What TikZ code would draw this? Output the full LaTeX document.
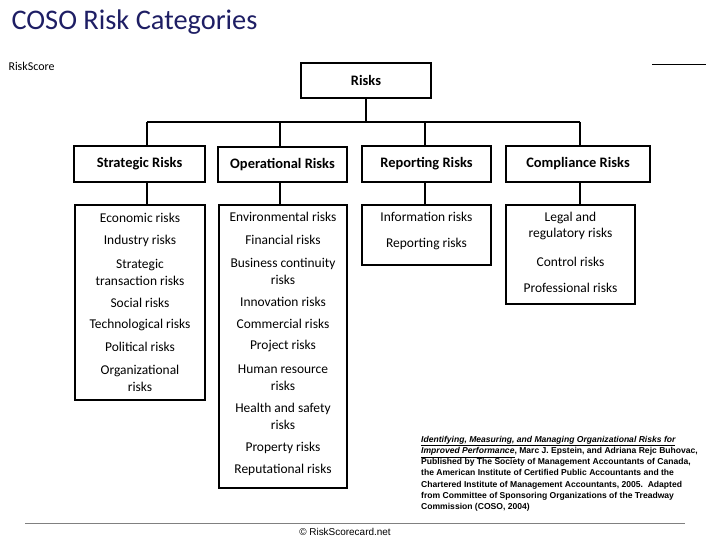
\documentclass[tikz,border=0pt]{standalone}
\usepackage{fontspec}
\setmainfont{Carlito}
\newfontfamily\citefont{Liberation Sans}
\definecolor{titleblue}{RGB}{30,30,100}
\tikzset{
  box/.style={draw, line width=1.4pt, inner sep=0pt},
  head/.style={box, font=\bfseries\fontsize{14.5}{16}\selectfont},
  item/.style={font=\fontsize{13.5}{17}\selectfont, align=center, inner sep=0pt},
  link/.style={line width=1.1pt}
}
\begin{document}
\begin{tikzpicture}[x=1bp, y=-1bp]
\useasboundingbox (0,0) rectangle (720,540);

\node[anchor=west, text=titleblue, font=\fontsize{28.5}{31}\selectfont] (title) at (8,22) {COSO Risk Categories};
\node[anchor=west, font=\fontsize{12}{14}\selectfont] (rs) at (5,66) {RiskScore};
\draw[line width=0.6pt] (652,64) -- (706,64);

% top
\node[head, minimum width=130bp, minimum height=35bp] (risks) at (366,80.5) {Risks};

% categories
\node[head, minimum width=131bp, minimum height=36bp] (strat) at (139.5,164) {Strategic Risks};
\node[head, minimum width=129bp, minimum height=35bp] (oper) at (282.5,164.5) {Operational Risks};
\node[head, minimum width=129bp, minimum height=36bp] (repo) at (426.5,164) {Reporting Risks};
\node[head, minimum width=144bp, minimum height=36bp] (comp) at (578,164) {Compliance Risks};

% lists
\node[box, minimum width=130bp, minimum height=195bp] (stratlist) at (140,302.5) {};
\node[box, minimum width=128bp, minimum height=283bp] (operlist) at (283,346.5) {};
\node[box, minimum width=129bp, minimum height=60bp] (repolist) at (426.5,235) {};
\node[box, minimum width=129bp, minimum height=99bp] (complist) at (570.5,254.5) {};

% connectors
\draw[link] (risks.south) -- (366,122);
\draw[link] (147,122) -- (580,122);
\foreach \c/\l/\x in {strat/stratlist/147, oper/operlist/280, repo/repolist/425, comp/complist/580}{
  \draw[link] (\x,122) -- (\c.north -| {(\x,0)});
  \draw[link] (\c.south -| {(\x,0)}) -- (\l.north -| {(\x,0)});
}

% strategic items
\node[item] (s1) at (140,218) {Economic risks};
\node[item] (s2) at (140,241) {Industry risks};
\node[item] (s3) at (140,272.5) {Strategic\\transaction risks};
\node[item] (s4) at (140,303) {Social risks};
\node[item] (s5) at (140,325) {Technological risks};
\node[item] (s6) at (140,347) {Political risks};
\node[item] (s7) at (140,378) {Organizational\\risks};

% operational items
\node[item] (o1) at (283,217) {Environmental risks};
\node[item] (o2) at (283,240) {Financial risks};
\node[item] (o3) at (283,271.5) {Business continuity\\risks};
\node[item] (o4) at (283,302) {Innovation risks};
\node[item] (o5) at (283,324) {Commercial risks};
\node[item] (o6) at (283,346) {Project risks};
\node[item] (o7) at (283,377.5) {Human resource\\risks};
\node[item] (o8) at (283,416.5) {Health and safety\\risks};
\node[item] (o9) at (283,448) {Property risks};
\node[item] (o10) at (283,470) {Reputational risks};

% reporting items
\node[item] (r1) at (426.5,217) {Information risks};
\node[item] (r2) at (426.5,244) {Reporting risks};

% compliance items
\node[item] (c1) at (570.5,226) {Legal and\\regulatory risks};
\node[item] (c2) at (570.5,262) {Control risks};
\node[item] (c3) at (570.5,288) {Professional risks};

% source
\node[anchor=north west, align=left, inner sep=0pt,
  font=\citefont\bfseries\fontsize{8.6}{11.2}\selectfont] (cite) at (421,436)
  {\underline{\itshape Identifying, Measuring, and Managing Organizational Risks for}\\
   \underline{\itshape Improved Performance}, Marc J. Epstein, and Adriana Rejc Buhovac,\\
   Published by The Society of Management Accountants of Canada,\\
   the American Institute of Certified Public Accountants and the\\
   Chartered Institute of Management Accountants, 2005.\ \ Adapted\\
   from Committee of Sponsoring Organizations of the Treadway\\
   Commission (COSO, 2004)};

\draw[line width=0.8pt, gray] (25,523) -- (685,523);
\node[font=\citefont\fontsize{10}{11}\selectfont] (copy) at (345,532) {© RiskScorecard.net};
\end{tikzpicture}
\end{document}
